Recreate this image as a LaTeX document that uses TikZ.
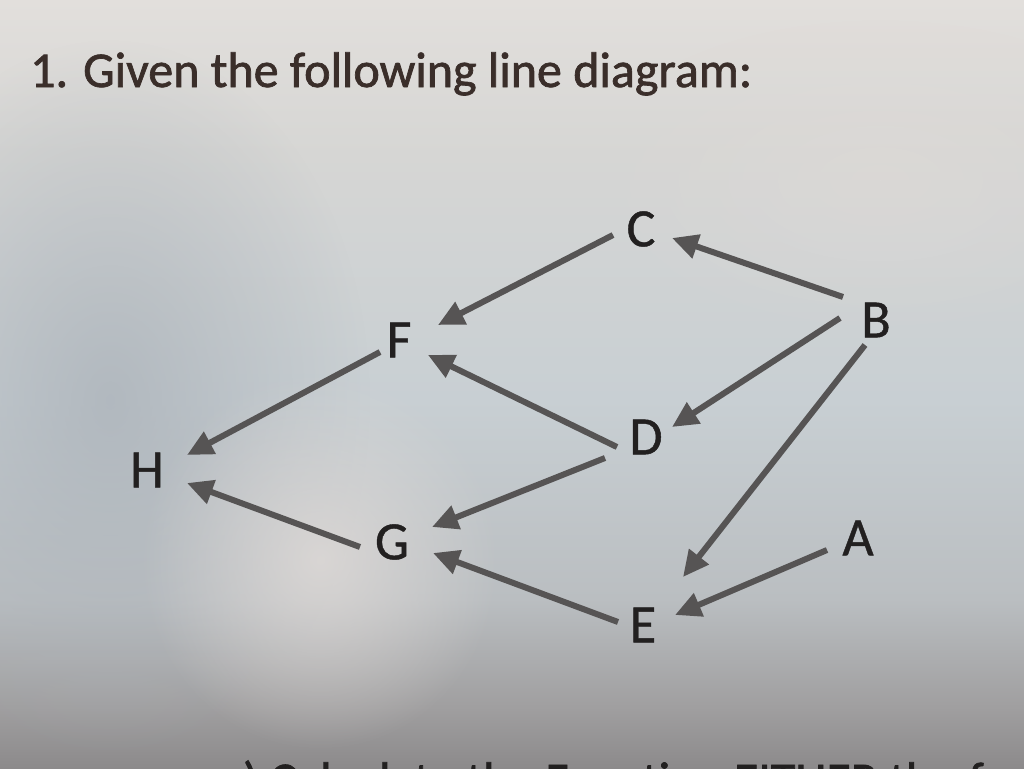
\documentclass[tikz,border=0pt]{standalone}
\usepackage{fontspec}
\setmainfont{Carlito}
\newfontfamily\boldishfont{Carlito}[FakeBold=1.4]
\newfontfamily\labelfont{Carlito}[FakeBold=0.8]
\usetikzlibrary{arrows.meta,fadings}
\tikzfading[name=softblob, inner color=transparent!0, outer color=transparent!100]
\definecolor{ink}{RGB}{34,32,32}
\definecolor{titleink}{RGB}{58,46,42}
\definecolor{arrowgray}{RGB}{86,84,84}
\definecolor{bgA}{RGB}{226,223,220}
\definecolor{bgB}{RGB}{214,214,212}
\definecolor{bgC}{RGB}{200,207,211}
\definecolor{bgD}{RGB}{186,190,193}
\definecolor{bgE}{RGB}{160,159,160}
\definecolor{bgF}{RGB}{140,138,139}
\definecolor{shadowgray}{RGB}{172,179,186}
\definecolor{lightpatch}{RGB}{224,219,216}
\pgfdeclareverticalshading{photobg}{100bp}{%
  color(0bp)=(bgF); color(25bp)=(bgF); color(29bp)=(bgE); color(36bp)=(bgD);
  color(49bp)=(bgC); color(65bp)=(bgB); color(75bp)=(bgA); color(100bp)=(bgA)}
\begin{document}
\begin{tikzpicture}[x=1pt,y=-1pt,
  lbl/.style={font=\labelfont\fontsize{54}{54}\selectfont, text=ink, inner sep=0pt},
  edge/.style={draw=arrowgray, line width=6pt, -{Triangle[length=26pt,width=24pt]}},
]
\useasboundingbox (0,0) rectangle (1024,768);
\clip (0,0) rectangle (1024,768);
\shade[shading=photobg] (0,0) rectangle (1024,768);
% photographic shadow and light patches
\fill[shadowgray, path fading=softblob, opacity=0.8] (110,400) ellipse (260 and 360);
\fill[lightpatch, path fading=softblob, opacity=0.8] (320,560) ellipse (180 and 190);
\fill[lightpatch, path fading=softblob, opacity=0.5] (880,180) ellipse (300 and 160);

% title and cut-off line
\node[anchor=base west, font=\boldishfont\fontsize{50}{50}\selectfont, text=titleink, inner sep=0pt] (title) at (30,87) {1. Given the following line diagram:};
\node[anchor=base west, font=\boldishfont\fontsize{50}{50}\selectfont, text=ink, inner sep=0pt] (next) at (219,797) {a) Calculate the Function EITHER the form};

% labels
\node[lbl] (C) at (641,229) {C};
\node[lbl] (B) at (876,320) {B};
\node[lbl] (F) at (399,340) {F};
\node[lbl] (D) at (646,437) {D};
\node[lbl] (H) at (147,470) {H};
\node[lbl] (G) at (392,542) {G};
\node[lbl] (A) at (858,538) {A};
\node[lbl] (E) at (643,625) {E};

% connectors
\draw[edge] ([shift={(-33,-23)}]B.center) -- ([shift={(31,9)}]C.center);
\draw[edge] ([shift={(-28,6)}]C.center) -- ([shift={(39,-15)}]F.center);
\draw[edge] ([shift={(-36,-2)}]B.center) -- ([shift={(26,-10)}]D.center);
\draw[edge] ([shift={(-11,25)}]B.center) -- ([shift={(40,-48)}]E.center);
\draw[edge] ([shift={(-29,10)}]D.center) -- ([shift={(29,15)}]F.center);
\draw[edge] ([shift={(-41,21)}]D.center) -- ([shift={(40,-15)}]G.center);
\draw[edge] ([shift={(-19,12)}]F.center) -- ([shift={(40,-15)}]H.center);
\draw[edge] ([shift={(-32,5)}]G.center) -- ([shift={(40,13)}]H.center);
\draw[edge] ([shift={(-25,-3)}]E.center) -- ([shift={(41,11)}]G.center);
\draw[edge] ([shift={(-31,12)}]A.center) -- ([shift={(32,-10)}]E.center);
\end{tikzpicture}
\end{document}
